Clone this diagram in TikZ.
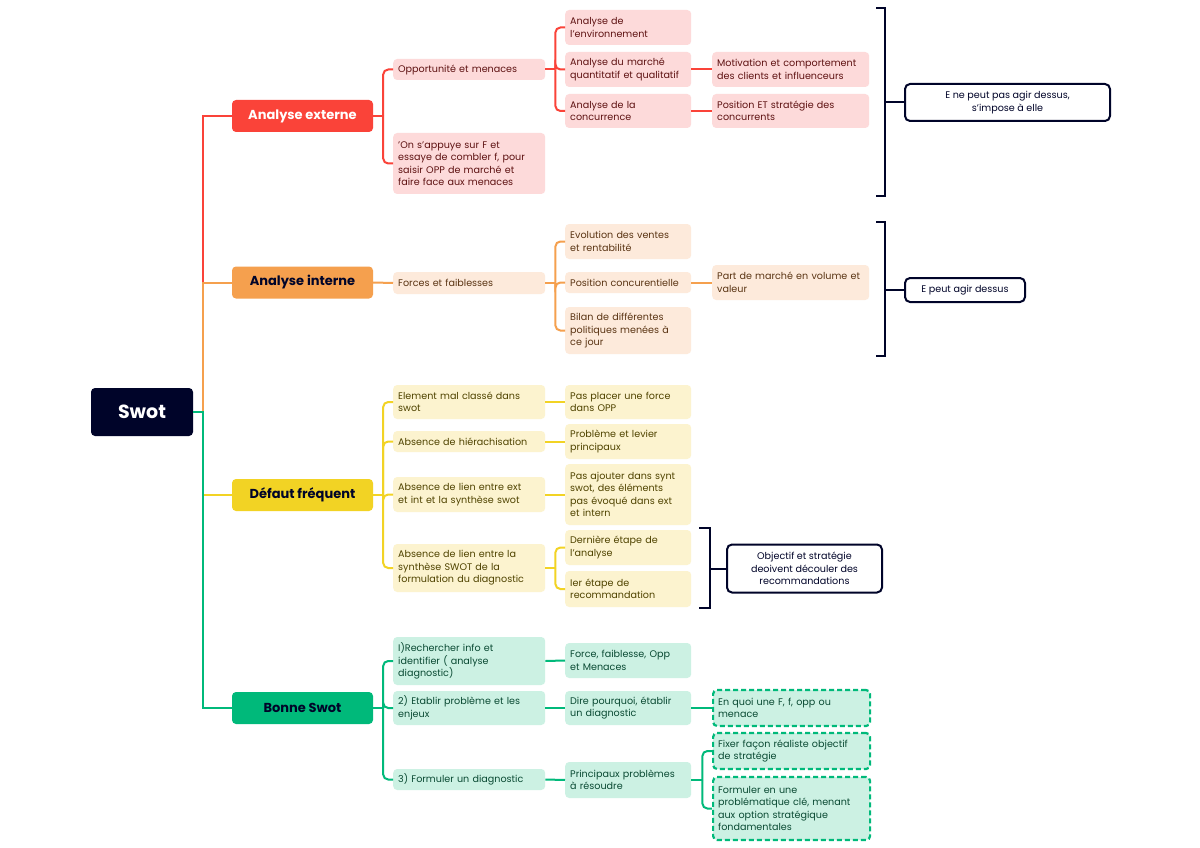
\documentclass[tikz,border=0pt]{standalone}
\usepackage{fontspec}
\setmainfont{Poppins}
\newfontfamily\headf{Poppins}
\begin{document}
\begin{tikzpicture}[x=1pt,y=-1pt]
\definecolor{navy}{HTML}{000429}
\definecolor{redM}{HTML}{FA4339}
\definecolor{redL}{HTML}{FDDADA}
\definecolor{redT}{HTML}{5E1212}
\definecolor{orM}{HTML}{F5A04E}
\definecolor{orL}{HTML}{FDEADB}
\definecolor{orT}{HTML}{5A3413}
\definecolor{yeM}{HTML}{F2D324}
\definecolor{yeL}{HTML}{FCF3CF}
\definecolor{yeT}{HTML}{4F4300}
\definecolor{grM}{HTML}{00B97A}
\definecolor{grL}{HTML}{CCF1E3}
\definecolor{grT}{HTML}{0A4A33}
\tikzset{
  box/.style={anchor=west, rounded corners=4pt, inner xsep=5pt, inner ysep=0pt,
    align=left, font=\fontsize{9.6}{12.5}\selectfont},
  w1/.style={text width=142pt},
  w3/.style={text width=116pt},
  w4/.style={text width=147pt},
  rbox/.style={box, fill=redL, text=redT},
  obox/.style={box, fill=orL, text=orT},
  ybox/.style={box, fill=yeL, text=yeT},
  gbox/.style={box, fill=grL, text=grT},
  gdash/.style={gbox, draw=grM, line width=2.2pt, dash pattern=on 5pt off 3pt},
  head/.style={rounded corners=4pt, minimum width=141pt, minimum height=32pt,
    inner sep=0pt, font=\headf\bfseries\fontsize{13}{15}\selectfont},
  conn/.style={line width=2pt},
  sub/.style={line width=2pt, rounded corners=5pt},
  note/.style={draw=navy, line width=2pt, rounded corners=5pt, fill=white, text=navy,
    align=center, inner sep=0pt, font=\fontsize{9.6}{12.5}\selectfont},
  brk/.style={draw=navy, line width=2pt}
}
\useasboundingbox (0,0) rectangle (1200,848);
\fill[white] (0,0) rectangle (1200,848);

% root and main headings
\node[fill=navy, rounded corners=4pt, minimum width=102pt, minimum height=48pt, inner sep=0pt,
  text=white, font=\headf\bfseries\fontsize{19}{24}\selectfont] (root) at (142,412) {Swot};
\node[head, fill=redM, text=white] (ae) at (302.5,116) {Analyse externe};
\node[head, fill=orM, text=navy] (ai) at (302.5,282.5) {Analyse interne};
\node[head, fill=yeM, text=navy] (df) at (302.5,495) {Défaut fréquent};
\node[head, fill=grM, text=navy] (bs) at (302.5,708) {Bonne Swot};

\coordinate (j0) at (203,412);
\draw[conn, redM] (j0) |- (ae.west);
\draw[conn, orM] (j0) |- (ai.west);
\draw[conn, yeM] (j0) |- (df.west);
\draw[conn, grM] (root.east) -- (j0) |- (bs.west);

% ---------------- Analyse externe
\node[rbox, w1, minimum height=21pt] (om) at (393,69.5) {Opportunité et menaces};
\node[rbox, w1, minimum height=61pt] (app) at (393,163.5) {'On s'appuye sur F et\\essaye de combler f, pour\\saisir OPP de marché et\\faire face aux menaces};
\node[rbox, w3, minimum height=35pt] (env) at (565,27.5) {Analyse de\\l'environnement};
\node[rbox, w3, minimum height=35pt] (mar) at (565,69.5) {Analyse du marché\\quantitatif et qualitatif};
\node[rbox, w3, minimum height=34pt] (conc) at (565,111) {Analyse de la\\concurrence};
\node[rbox, w4, minimum height=35pt] (mot) at (712,69.5) {Motivation et comportement\\des clients et influenceurs};
\node[rbox, w4, minimum height=34pt] (pos) at (712,111) {Position ET stratégie des\\concurrents};

\coordinate (jae) at ([xshift=10pt]ae.east);
\draw[conn, redM] (ae.east) -- (jae);
\draw[sub, redM] (jae) |- (om.west);
\draw[sub, redM] (jae) |- (app.west);
\coordinate (jom) at ([xshift=10pt]om.east);
\draw[conn, redM] (om.east) -- (jom);
\draw[sub, redM] (jom) |- (env.west);
\draw[sub, redM] (jom) |- (mar.west);
\draw[sub, redM] (jom) |- (conc.west);
\draw[conn, redM] (mar.east) -- (mot.west);
\draw[conn, redM] (conc.east) -- (pos.west);

% ---------------- Analyse interne
\node[obox, w1, minimum height=22pt] (ff) at (393,283) {Forces et faiblesses};
\node[obox, w3, minimum height=35pt] (evo) at (565,241.5) {Evolution des ventes\\et rentabilité};
\node[obox, w3, minimum height=21pt] (pc) at (565,282.5) {Position concurentielle};
\node[obox, w3, minimum height=47pt] (bil) at (565,330.5) {Bilan de différentes\\politiques menées à\\ce jour};
\node[obox, w4, minimum height=35pt] (pdm) at (712,282.5) {Part de marché en volume et\\valeur};

\draw[conn, orM] (ai.east) -- (ff.west);
\coordinate (jff) at ([xshift=10pt]ff.east);
\draw[conn, orM] (ff.east) -- (jff);
\draw[sub, orM] (jff) |- (evo.west);
\draw[sub, orM] (jff) |- (pc.west);
\draw[sub, orM] (jff) |- (bil.west);
\draw[conn, orM] (pc.east) -- (pdm.west);

% ---------------- Defaut frequent
\node[ybox, w1, minimum height=34pt] (emc) at (393,402) {Element mal classé dans\\swot};
\node[ybox, w1, minimum height=21pt] (abh) at (393,441.5) {Absence de hiérachisation};
\node[ybox, w1, minimum height=35pt] (ale) at (393,494.5) {Absence de lien entre ext\\et int et la synthèse swot};
\node[ybox, w1, minimum height=48pt] (als) at (393,568) {Absence de lien entre la\\synthèse SWOT de la\\formulation du diagnostic};
\node[ybox, w3, minimum height=34pt] (ppf) at (565,402) {Pas placer une force\\dans OPP};
\node[ybox, w3, minimum height=35pt] (plp) at (565,441.5) {Problème et levier\\principaux};
\node[ybox, w3, minimum height=61pt] (paj) at (565,494.5) {Pas ajouter dans synt\\swot, des éléments\\pas évoqué dans ext\\et intern};
\node[ybox, w3, minimum height=35pt] (der) at (565,547.5) {Dernière étape de\\l'analyse};
\node[ybox, w3, minimum height=36pt] (ier) at (565,589) {Ier étape de\\recommandation};

\coordinate (jdf) at ([xshift=10pt]df.east);
\draw[conn, yeM] (df.east) -- (jdf);
\draw[sub, yeM] (jdf) |- (emc.west);
\draw[sub, yeM] (jdf) |- (abh.west);
\draw[sub, yeM] (jdf) |- (ale.west);
\draw[sub, yeM] (jdf) |- (als.west);
\draw[conn, yeM] (emc.east) -- (ppf.west);
\draw[conn, yeM] (abh.east) -- (plp.west);
\draw[conn, yeM] (ale.east) -- (paj.west);
\coordinate (jals) at ([xshift=10pt]als.east);
\draw[conn, yeM] (als.east) -- (jals);
\draw[sub, yeM] (jals) |- (der.west);
\draw[sub, yeM] (jals) |- (ier.west);

% ---------------- Bonne Swot
\node[gbox, w1, minimum height=48pt] (rech) at (393,661) {I)Rechercher info et\\identifier ( analyse\\diagnostic)};
\node[gbox, w1, minimum height=34pt] (eta) at (393,708) {2) Etablir problème et les\\enjeux};
\node[gbox, w1, minimum height=21pt] (form) at (393,779.5) {3) Formuler un diagnostic};
\node[gbox, w3, minimum height=35pt] (ffo) at (565,660.5) {Force, faiblesse, Opp\\et Menaces};
\node[gbox, w3, minimum height=34pt] (dire) at (565,708) {Dire pourquoi, établir\\un diagnostic};
\node[gbox, w3, minimum height=36pt] (pri) at (565,780) {Principaux problèmes\\à résoudre};
\node[gdash, w4, minimum height=36pt] (enq) at (712,708) {En quoi une F, f, opp ou\\menace};
\node[gdash, w4, minimum height=36pt] (fix) at (712,751) {Fixer façon réaliste objectif\\de stratégie};
\node[gdash, w4, minimum height=63pt] (fpb) at (712,808.5) {Formuler en une\\problématique clé, menant\\aux option stratégique\\fondamentales};

\coordinate (jbs) at ([xshift=10pt]bs.east);
\draw[conn, grM] (bs.east) -- (jbs);
\draw[sub, grM] (jbs) |- (rech.west);
\draw[sub, grM] (jbs) |- (eta.west);
\draw[sub, grM] (jbs) |- (form.west);
\draw[conn, grM] (rech.east) -- (ffo.west);
\draw[conn, grM] (eta.east) -- (dire.west);
\draw[conn, grM] (form.east) -- (pri.west);
\draw[conn, grM] (dire.east) -- (enq.west);
\coordinate (jpri) at ([xshift=11pt]pri.east);
\draw[conn, grM] (pri.east) -- (jpri);
\draw[sub, grM] (jpri) |- (fix.west);
\draw[sub, grM] (jpri) |- (fpb.west);

% ---------------- brackets and notes
\node[note, minimum width=205pt, minimum height=37pt] (n1) at (1007.5,102.5) {E ne peut pas agir dessus,\\s'impose à elle};
\node[note, minimum width=120pt, minimum height=24pt] (n2) at (965,290) {E peut agir dessus};
\node[note, minimum width=155pt, minimum height=48pt] (n3) at (804.5,568.5) {Objectif et stratégie\\deoivent découler des\\recommandations};

\coordinate (b1t) at (876,8);
\coordinate (b1b) at (876,196);
\coordinate (b1m) at (885,102.5);
\draw[brk] (b1t) -- (885,8) -- (885,196) -- (b1b);
\draw[brk] (b1m) -- (n1.west);

\coordinate (b2t) at (876,222);
\coordinate (b2b) at (876,356);
\coordinate (b2m) at (885,290);
\draw[brk] (b2t) -- (885,222) -- (885,356) -- (b2b);
\draw[brk] (b2m) -- (n2.west);

\coordinate (b3t) at (699,528);
\coordinate (b3b) at (699,608);
\coordinate (b3m) at (710,568.5);
\draw[brk] (b3t) -- (710,528) -- (710,608) -- (b3b);
\draw[brk] (b3m) -- (n3.west);
\end{tikzpicture}
\end{document}
